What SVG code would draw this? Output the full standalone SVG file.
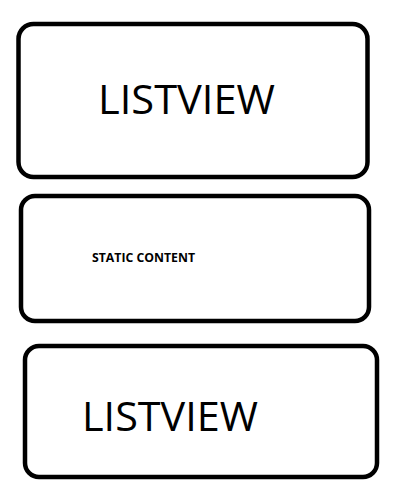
<svg xmlns="http://www.w3.org/2000/svg" width="401" height="491" viewBox="0 0 401 491">
<style>
.box{fill:#fff;stroke:#000;stroke-width:4.5}
.big{font-family:"Open Sans","DejaVu Sans",sans-serif;font-size:41px;fill:#000}
.small{font-family:"Open Sans","DejaVu Sans",sans-serif;font-size:12px;font-weight:bold;fill:#000}
</style>
<rect width="401" height="491" fill="#fff"/>
<g id="listview-top">
<rect class="box" x="18.5" y="24" width="349" height="153" rx="15"/>
<text class="big" x="98" y="114" textLength="177" lengthAdjust="spacingAndGlyphs">LISTVIEW</text>
</g>
<g id="static-content">
<rect class="box" x="21" y="196" width="348" height="125" rx="14"/>
<text class="small" x="92" y="262" textLength="103" lengthAdjust="spacingAndGlyphs">STATIC CONTENT</text>
</g>
<g id="listview-bottom">
<rect class="box" x="25" y="346" width="352" height="131" rx="14"/>
<text class="big" x="82" y="431" textLength="176" lengthAdjust="spacingAndGlyphs">LISTVIEW</text>
</g>
<g id="connectors"/>
</svg>
